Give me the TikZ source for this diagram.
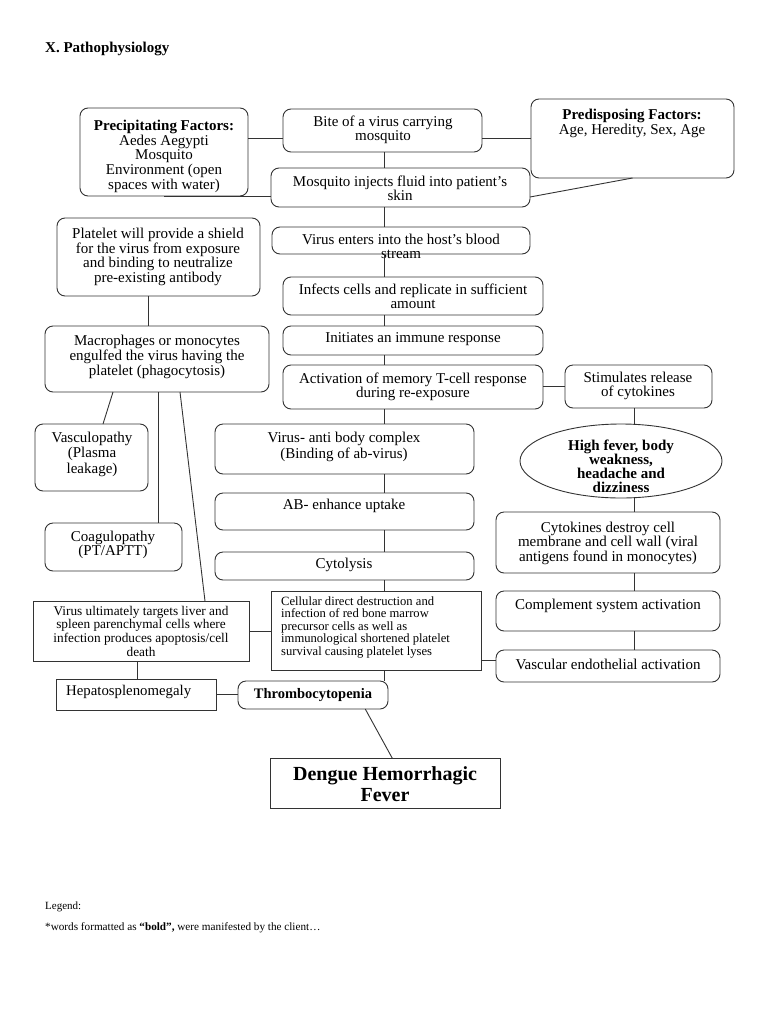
\documentclass[tikz,border=0pt]{standalone}
\usepackage{fontspec}
\setmainfont{Liberation Serif}
\usetikzlibrary{shapes.geometric}
\newcommand\mkbox[6]{\node[#1,minimum width={(#5-#3)*1bp},minimum height={(#6-#4)*1bp}] (#2) at ({(#3+#5)/2},{(#4+#6)/2}) {};}
\begin{document}
\begin{tikzpicture}[x=1bp,y=-1bp,
  rbox/.style={draw=black!80, line width=0.9bp, rounded corners=8bp, inner sep=0pt, outer sep=0pt},
  sbox/.style={draw=black!80, line width=0.9bp, inner sep=0pt, outer sep=0pt},
  txt/.style={align=center, inner sep=0pt, anchor=base, font=\fontsize{15bp}{14.6bp}\selectfont},
  ltxt/.style={align=left, inner sep=0pt, anchor=base west},
  ln/.style={draw=black!80, line width=0.9bp}]
\fill[white] (0,0) rectangle (768,1024);
\useasboundingbox (0,0) rectangle (768,1024);
% title
\node[ltxt, font=\fontsize{15bp}{15bp}\selectfont\bfseries] (title) at (45,52) {X. Pathophysiology};
% boxes
\mkbox{rbox}{pre}{80}{108}{248}{196}
\mkbox{rbox}{bite}{283}{109}{482}{152}
\mkbox{rbox}{pred}{531}{99}{734}{178}
\mkbox{rbox}{mosq}{271}{168}{530}{207}
\mkbox{rbox}{plat}{57}{218}{260}{296}
\mkbox{rbox}{vent}{272}{227}{530}{254}
\mkbox{rbox}{inf}{283}{277}{543}{315}
\mkbox{rbox}{init}{283}{326}{543}{355}
\mkbox{rbox}{act}{283}{365}{543}{409}
\mkbox{rbox}{stim}{565}{365}{712}{408}
\mkbox{rbox}{mac}{45}{326}{269}{392}
\mkbox{rbox}{vasc}{35}{424}{148}{491}
\mkbox{rbox}{vab}{215}{424}{474}{474}
\node[draw=black!80, line width=0.9bp, ellipse, inner sep=0pt, outer sep=0pt, minimum width=202bp, minimum height=74bp] (ell) at (621,461) {};
\mkbox{rbox}{coag}{45}{523}{182}{571}
\mkbox{rbox}{ab}{215}{493}{474}{530}
\mkbox{rbox}{cytok}{496}{512}{720}{573}
\mkbox{rbox}{cyto}{215}{552}{474}{580}
\mkbox{sbox}{vult}{33}{601}{249}{661}
\mkbox{sbox}{cell}{271}{591}{481}{670}
\mkbox{rbox}{comp}{496}{591}{720}{631}
\mkbox{rbox}{vasce}{496}{650}{720}{682}
\mkbox{sbox}{hep}{56}{679}{216}{710}
\mkbox{rbox}{thr}{238}{681}{388}{709}
\mkbox{sbox}{dhf}{270}{758}{500}{808}
% texts (anchor base = baseline of last line)
\node[txt] (tpre) at (164,189) {\textbf{Precipitating Factors:}\\Aedes Aegypti\\Mosquito\\Environment (open\\spaces with water)};
\node[txt] (tpred) at (632,134) {\textbf{Predisposing Factors:}\\Age, Heredity, Sex, Age};
\node[txt] (tbite) at (383,140.6) {Bite of a virus carrying\\mosquito};
\node[txt] (tmosq) at (400,200.6) {Mosquito injects fluid into patient's\\skin};
\node[txt] (tvent) at (401,258.6) {Virus enters into the host's blood\\stream};
\node[txt] (tinf) at (413,308.6) {Infects cells and replicate in sufficient\\amount};
\node[txt] (tinit) at (413,342) {Initiates an immune response};
\node[txt] (tact) at (413,397.6) {Activation of memory T-cell response\\during re-exposure};
\node[txt] (tstim) at (638,396.6) {Stimulates release\\of cytokines};
\node[txt] (tplat) at (158,282.5) {Platelet will provide a shield\\for the virus from exposure\\and binding to neutralize\\pre-existing antibody};
\node[txt] (tmac) at (157,375) {Macrophages or monocytes\\engulfed the virus having the\\platelet (phagocytosis)};
\node[txt, font=\fontsize{15bp}{15.5bp}\selectfont] (tvasc) at (92,473) {Vasculopathy\\(Plasma\\leakage)};
\node[txt] (tcoag) at (113,555.6) {Coagulopathy\\(PT/APTT)};
\node[txt, font=\fontsize{15bp}{16bp}\selectfont] (tvab) at (344,458) {Virus- anti body complex\\(Binding of ab-virus)};
\node[txt] (tab) at (344,509) {AB- enhance uptake};
\node[txt] (tcyto) at (344,568) {Cytolysis};
\node[txt, font=\fontsize{15bp}{14bp}\selectfont\bfseries] (tell) at (621,492) {High fever, body\\weakness,\\headache and\\dizziness};
\node[txt] (tcytok) at (608,561.2) {Cytokines destroy cell\\membrane and cell wall (viral\\antigens found in monocytes)};
\node[txt] (tcomp) at (608,609) {Complement system activation};
\node[txt] (tvasce) at (608,669) {Vascular endothelial activation};
\node[txt, font=\fontsize{13.3bp}{13.8bp}\selectfont] (tvult) at (141,656.4) {Virus ultimately targets liver and\\spleen parenchymal cells where\\infection produces apoptosis/cell\\death};
\node[ltxt, font=\fontsize{12.6bp}{12.6bp}\selectfont] (tcell) at (281,655.4) {Cellular direct destruction and\\infection of red bone marrow\\precursor cells as well as\\immunological shortened platelet\\survival causing platelet lyses};
\node[ltxt, font=\fontsize{14.8bp}{14.8bp}\selectfont] (thep) at (66,695) {Hepatosplenomegaly};
\node[txt, font=\fontsize{14.5bp}{14.5bp}\selectfont\bfseries] (tthr) at (313,698) {Thrombocytopenia};
\node[txt, font=\fontsize{20bp}{21bp}\selectfont\bfseries] (tdhf) at (385,801) {Dengue Hemorrhagic\\Fever};
\node[ltxt, font=\fontsize{11bp}{11bp}\selectfont] (tleg) at (45,909) {Legend:};
\node[ltxt, font=\fontsize{11.2bp}{11bp}\selectfont] (tleg2) at (45,930) {*words formatted as \textbf{“bold”,} were manifested by the client…};
% helper coordinates
\coordinate (y1) at (0,138);
\coordinate (y2) at (0,197);
\coordinate (cx) at (384,0);
\coordinate (rx) at (634,0);
\coordinate (px) at (148,0);
\coordinate (m1) at (113,392);
\coordinate (v1) at (103,424);
\coordinate (qx) at (158,0);
\coordinate (m2) at (180,392);
\coordinate (v2) at (205,601);
\coordinate (hx) at (137,0);
\coordinate (y3) at (0,660);
% connectors
\draw[ln] (y1 -| pre.east) -- (y1 -| bite.west);
\draw[ln] (y1 -| bite.east) -- (y1 -| pred.west);
\draw[ln] (pre.south) -- (pre.south -| mosq.west);
\draw[ln] (pred.south) -- (y2 -| mosq.east);
\draw[ln] (cx |- bite.south) -- (cx |- mosq.north);
\draw[ln] (cx |- mosq.south) -- (cx |- vent.north);
\draw[ln] (cx |- vent.south) -- (cx |- inf.north);
\draw[ln] (cx |- inf.south) -- (cx |- init.north);
\draw[ln] (cx |- init.south) -- (cx |- act.north);
\draw[ln] (act.east |- stim.west) -- (stim.west);
\draw[ln] (cx |- act.south) -- (cx |- vab.north);
\draw[ln] (cx |- vab.south) -- (cx |- ab.north);
\draw[ln] (cx |- ab.south) -- (cx |- cyto.north);
\draw[ln] (cx |- cyto.south) -- (cx |- cell.north);
\draw[ln] (cx |- cell.south) -- (cx |- thr.north);
\draw[ln] (rx |- stim.south) -- (rx |- ell.north);
\draw[ln] (rx |- ell.south) -- (rx |- cytok.north);
\draw[ln] (rx |- cytok.south) -- (rx |- comp.north);
\draw[ln] (rx |- comp.south) -- (rx |- vasce.north);
\draw[ln] (y3 -| cell.east) -- (y3 -| vasce.west);
\draw[ln] (vult.east) -- (vult.east -| cell.west);
\draw[ln] (hx |- vult.south) -- (hx |- hep.north);
\draw[ln] (hep.east) -- (hep.east -| thr.west);
\draw[ln] (thr.-15) -- (dhf.74);
\draw[ln] (px |- plat.south) -- (px |- mac.north);
\draw[ln] (m1) -- (v1);
\draw[ln] (qx |- mac.south) -- (qx |- coag.north);
\draw[ln] (m2) -- (v2);
\end{tikzpicture}
\end{document}
